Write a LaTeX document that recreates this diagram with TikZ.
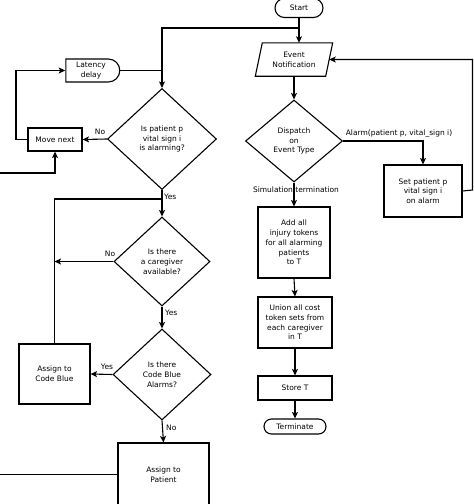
\documentclass[tikz,border=0pt]{standalone}
\usepackage{fontspec}
\setmainfont{DejaVu Sans}
\usetikzlibrary{shapes.geometric,shapes.misc,arrows.meta}
\begin{document}
\begin{tikzpicture}[x=1pt,y=-1pt,
  every node/.style={font=\fontsize{7.5}{9.7}\selectfont, align=center, inner sep=1pt},
  ln/.style={line width=1.1pt},
  arr/.style={ln, -{Stealth[length=6.5pt,width=6pt,inset=1.5pt]}},
  box/.style={draw, ln, rectangle},
  dec/.style={draw, ln, diamond},
  term/.style={draw, ln, rounded rectangle},
  dly/.style={draw, ln, rounded rectangle, rounded rectangle left arc=none},
  lbl/.style={inner sep=0pt}]
\useasboundingbox (0,0) rectangle (474,504);

% right column
\node[term, minimum width=50, minimum height=19] (start) at (299,8) {Start};
\node[minimum width=70, minimum height=33] (en) at (294,59.5) {Event\\Notification};
\draw[ln] ([xshift=3.5pt]en.north west) -- ([xshift=3.5pt]en.north east)
  -- ([xshift=-3.5pt]en.south east) -- ([xshift=-3.5pt]en.south west) -- cycle;
\node[dec, minimum width=97, minimum height=82] (disp) at (294,141) {Dispatch\\on\\Event Type};
\node[box, minimum width=78, minimum height=52] (set) at (423,191) {Set patient p\\vital sign i\\on alarm};
\node[box, minimum width=72, minimum height=71] (add) at (294,242.5) {Add all\\injury tokens\\for all alarming\\patients\\to T};
\node[box, minimum width=74, minimum height=51] (union) at (295,322.5) {Union all cost\\token sets from\\each caregiver\\in T};
\node[box, minimum width=74, minimum height=24] (store) at (295,388) {Store T};
\node[term, minimum width=64, minimum height=15] (termi) at (295,426.5) {Terminate};

% left column
\node[dly, minimum width=56, minimum height=23] (lat) at (91,70.5) {Latency\\delay};
\node[box, minimum width=54, minimum height=23] (mv) at (55,139.5) {Move next};
\node[dec, minimum width=109, minimum height=101] (d1) at (162,139) {Is patient p\\vital sign i\\is alarming?};
\node[dec, minimum width=96, minimum height=89] (d2) at (162,261.5) {Is there\\a caregiver\\available?};
\node[dec, minimum width=98, minimum height=91] (d3) at (162,374.5) {Is there\\Code Blue\\Alarms?};
\node[box, minimum width=71, minimum height=60] (cb) at (54.5,374) {Assign to\\Code Blue};
\node[box, minimum width=91, minimum height=63] (pat) at (163.5,474.5) {Assign to\\Patient};

% coordinates
\coordinate (j1) at (299,28);
\coordinate (c1) at (162,28);
\coordinate (j2) at (162,199);
\coordinate (j3) at (54.5,261.5);
\coordinate (r1) at (472.5,190);
\coordinate (r2) at (472.5,59.5);
\coordinate (m1) at (16,139.5);
\coordinate (m2) at (16,70.5);
\coordinate (in1) at (0,173);
\coordinate (out1) at (0,474.5);

% right column connectors
\draw[arr] (start.south) -- (start.south |- en.north);
\draw[arr] (j1) -- (c1) -- (d1.north);
\draw[arr] (en.south) -- (disp.north);
\draw[arr] (disp.east) -| (set.north);
\node[lbl] at (399,134) {Alarm(patient p, vital\_sign i)};
\draw[arr] (set.east) -- (r1) -- (r2) -- (en.east);
\draw[arr] (disp.south) -- (add.north);
\node[lbl] at (296,190) {Simulation termination};
\draw[arr] (add.south) -- (union.north);
\draw[arr] (union.south) -- (store.north);
\draw[arr] (store.south) -- (termi.north);

% left column connectors
\draw[ln] (lat.east) -- (lat.east -| c1);
\draw[arr] (d1.west) -- (mv.east);
\node[lbl] at (100,132) {No};
\draw[arr] (mv.west) -- (m1) -- (m2) -- (lat.west);
\draw[arr] (in1) -| (mv.south);
\draw[arr] (d1.south) -- (d2.north);
\node[lbl, anchor=west] at (164,197) {Yes};
\draw[ln] (cb.north) -- (cb.north |- j2) -- (j2);
\draw[arr] (d2.west) -- (j3);
\node[lbl] at (110,254) {No};
\draw[arr] (d2.south) -- (d3.north);
\node[lbl, anchor=west] at (165,313) {Yes};
\draw[arr] (d3.west) -- (cb.east);
\node[lbl] at (107,367) {Yes};
\draw[arr] (d3.south) -- (pat.north);
\node[lbl, anchor=west] at (166,428) {No};
\draw[ln] (pat.west) -- (out1);
\end{tikzpicture}
\end{document}
